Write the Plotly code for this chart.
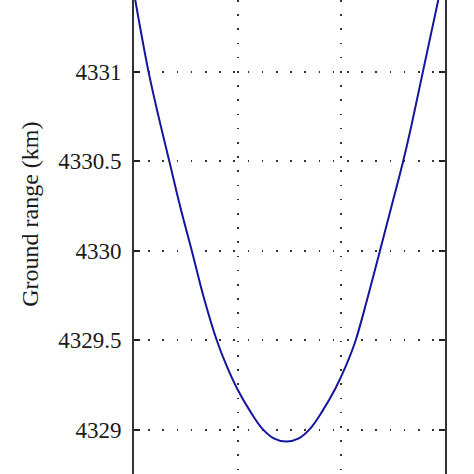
import plotly.graph_objects as go

# Values (x in grid-interval units, y = ground range in km)
x_vals = [0.012, 0.140, 0.237, 0.343, 0.446, 0.558, 0.671, 0.800, 0.897, 0.993,
          1.123, 1.235, 1.348, 1.469,
          1.589, 1.702, 1.814, 1.944, 2.041, 2.137, 2.256, 2.372, 2.483, 2.594,
          2.681, 2.787, 2.935]
ground_range = [4331.400, 4331.000, 4330.749, 4330.494, 4330.246, 4329.999, 4329.744,
                4329.498, 4329.353, 4329.233, 4329.102, 4329.009, 4328.953, 4328.935,
                4328.953, 4329.009, 4329.102, 4329.233, 4329.353, 4329.498, 4329.744,
                4329.999, 4330.246, 4330.494, 4330.712, 4331.000, 4331.400]

y_ticks = [4329, 4329.5, 4330, 4330.5, 4331]
y_tick_labels = ["4329", "4329.5", "4330", "4330.5", "4331"]
x_grid = [0, 1, 2, 3]

FONT = "Liberation Serif"

fig = go.Figure()
fig.add_trace(go.Scatter(
    x=x_vals, y=ground_range, mode="lines",
    line=dict(color="#15159e", width=2, shape="spline", smoothing=1.0),
    showlegend=False, hoverinfo="skip",
))

fig.update_layout(
    width=474, height=474,
    margin=dict(l=134, r=29, t=0, b=0),
    paper_bgcolor="white", plot_bgcolor="white",
    font=dict(family=FONT, color="#1a1a1a", size=23),
    annotations=[dict(
        text="Ground range (km)", xref="paper", yref="paper",
        x=-0.335, y=0.5485, textangle=-90, showarrow=False,
        font=dict(family=FONT, size=24, color="#1a1a1a"),
        xanchor="center", yanchor="middle",
    )],
)

fig.update_xaxes(
    range=[0, 3], tickvals=x_grid, showticklabels=False, ticks="",
    showline=False, zeroline=False,
    showgrid=True, gridcolor="#333333", gridwidth=1.6, griddash="1.6px,12.6px",
)
fig.update_yaxes(
    range=[4328.754, 4331.400], tickvals=y_ticks, ticktext=y_tick_labels,
    ticks="inside", ticklen=6, tickwidth=1.5, tickcolor="#222222",
    showline=True, linecolor="#333333", linewidth=1.6, mirror="ticks",
    zeroline=False, ticklabelstandoff=6,
    tickfont=dict(family=FONT, size=23, color="#1a1a1a"),
    showgrid=True, gridcolor="#333333", gridwidth=1.6, griddash="1.6px,12.6px",
)

fig.write_html("out.html", config={"displayModeBar": False},
               post_script="document.body.style.margin='0';")
